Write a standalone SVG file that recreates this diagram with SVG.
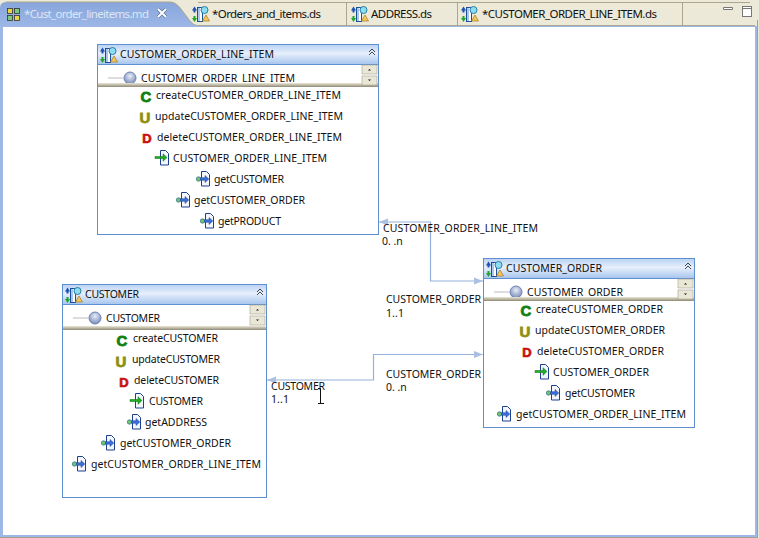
<svg xmlns="http://www.w3.org/2000/svg" width="759" height="538" viewBox="0 0 759 538">
<style>
text{font-family:"Noto Sans","DejaVu Sans",sans-serif;font-size:10.5px;fill:#111}
.tab{font-size:11.5px}
.box{fill:#fff;stroke:#5f8fd3;stroke-width:1}
.conn{fill:none;stroke:#93b1dc;stroke-width:1.2}
.ah{fill:#a9c0e3}
.lc{font:900 15px "Liberation Sans",sans-serif;fill:#127f12;stroke:#127f12;stroke-width:.8}
.lu{font:900 15px "Liberation Sans",sans-serif;fill:#8f8f12;stroke:#8f8f12;stroke-width:.8}
.ld{font:900 13px "Liberation Sans",sans-serif;fill:#c81212;stroke:#c81212;stroke-width:.7}
</style>
<defs>
<linearGradient id="hd" x1="0" y1="0" x2="0" y2="1"><stop offset="0" stop-color="#bcd3f4"/><stop offset=".45" stop-color="#e6effb"/><stop offset="1" stop-color="#a9c6ee"/></linearGradient>
<linearGradient id="tb" x1="0" y1="0" x2="0" y2="1"><stop offset="0" stop-color="#88a6dd"/><stop offset="1" stop-color="#9cb7e6"/></linearGradient>
<radialGradient id="ball" cx=".5" cy=".35" r=".7"><stop offset="0" stop-color="#e8edf7"/><stop offset="1" stop-color="#6d83b3"/></radialGradient>
<linearGradient id="band" x1="0" y1="0" x2="0" y2="1"><stop offset="0" stop-color="#ebe7d6"/><stop offset="1" stop-color="#8f8a75"/></linearGradient>
<g id="ds">
<rect x="5.500" y="2.500" width="5" height="14" fill="#fff" stroke="#1c4f99"/>
<rect x="6" y="3" width="2" height="13" fill="#a9c6ee"/>
<path d="M0 5.500l2.500-4 2.500 4h-1.500v2h-2v-2z" fill="#1c50b4"/>
<path d="M0 13l2.500 4 2.500-4h-1.500v-2h-2v2z" fill="#22a52a"/>
<circle cx="12.500" cy="5" r="3.500" fill="#8cdcf2" stroke="#2d7f9f"/>
<path d="M10.500 16l3.500-6 3.500 6z" fill="#f2c75c" stroke="#a8791d" stroke-width=".7"/>
</g>
<g id="ic"><text class="lc" x="0" y="5.500" text-anchor="middle">C</text></g>
<g id="iu"><text class="lu" x="0" y="5.500" text-anchor="middle">U</text></g>
<g id="id"><text class="ld" x="0" y="5" text-anchor="middle">D</text></g>
<g id="dg"><path d="M-3.500-7.500h5l3 3v11.500h-8z" fill="#f3f7fd" stroke="#1c3f8f"/><path d="M-9-1.500h8v-2.800l4 3.800-4 3.800v-2.800h-8z" fill="#1fae22" stroke="#0d6d12" stroke-width=".5"/></g>
<g id="db"><path d="M-3.500-7.500h5l3 3v11.500h-8z" fill="#f3f7fd" stroke="#1c3f8f"/><circle cx="-6.500" cy="0" r="2.200" fill="#6fc46f" stroke="#2c6f8f" stroke-width=".7"/><path d="M-4.500-1.300h4.500v-2.200l3.800 3.500-3.800 3.500v-2.200h-4.500z" fill="#3a6fdc" stroke="#1c3f8f" stroke-width=".5"/></g>
<g id="scroll">
<rect x="0" y="0" width="15" height="9" fill="#ebe7d6" stroke="#a5a08c" stroke-width=".6"/><path d="M6 5.500h3l-1.500-1.500z" fill="#111"/>
<rect x="0" y="11" width="15" height="9" fill="#ebe7d6" stroke="#a5a08c" stroke-width=".6"/><path d="M6 14.500h3l-1.500 1.500z" fill="#111"/>
</g>
<path id="chev" d="M0 3l3-3 3 3M0 6l3-3 3 3" fill="none" stroke="#333" stroke-width=".9"/>
</defs>

<g id="workbench">
<rect width="759" height="538" fill="#ece9d8"/>
<rect x="0" y="26" width="757" height="511" fill="#9db8e6"/>
<rect x="3" y="27" width="752" height="508" fill="#fff"/>
<path d="M0 537.500h758M757.500 20v518" stroke="#a5a08c" fill="none"/>
<path d="M0 27V8q0-6 6-6H170q6 0 11 7l9 12q3 4 8 5H0z" fill="url(#tb)"/>
<path d="M198 26q-5-1-8-5l-9-12q-5-7-11-7H6M346.500 3v23M457.500 3v23M682.500 3v23M198 2.500H750M198 25.500H755" fill="none" stroke="#aaa690"/>
<g fill="#e8d34a" stroke="#333" stroke-width=".8"><rect x="7.500" y="8.500" width="5" height="5"/><rect x="14.500" y="8.500" width="5" height="5" fill="#7cc87c"/><rect x="7.500" y="15.500" width="5" height="5" fill="#7cc87c"/><rect x="14.500" y="15.500" width="5" height="5"/></g>
<text class="tab" x="24" y="18" textLength="125" style="fill:#dce6f6">*Cust_order_lineitems.md</text>
<path d="M158 9l8 8M166 9l-8 8" stroke="#5a6f96" stroke-width="3.200"/>
<path d="M158 9l8 8M166 9l-8 8" stroke="#fff" stroke-width="2"/>
<use href="#ds" x="192" y="5"/><text class="tab" x="212" y="18" textLength="109">*Orders_and_items.ds</text>
<use href="#ds" x="351" y="5"/><text class="tab" x="371" y="18" textLength="61">ADDRESS.ds</text>
<use href="#ds" x="461" y="5"/><text class="tab" x="482" y="18" textLength="175">*CUSTOMER_ORDER_LINE_ITEM.ds</text>
<path d="M723.500 7.500h9v2h-9z" fill="#fff" stroke="#777"/>
<rect x="742.500" y="6.500" width="9" height="10" fill="#fff" stroke="#777"/><path d="M742.500 8.500h9" stroke="#777"/>
</g>

<g id="connectors">
<path class="conn" d="M379 222H430.500V281H483"/>
<path class="ah" d="M379 222l9-3.500v7zM483 281l-9-3.500v7z"/>
<path class="conn" d="M267 380H373.500V354.500H483"/>
<path class="ah" d="M267 380l9-3.500v7zM483 354.500l-9-3.500v7z"/>
</g>

<g id="node-line-item">
<rect class="box" x="97.500" y="44.500" width="281" height="190"/>
<rect x="98" y="45" width="280" height="19" fill="url(#hd)"/><path d="M98 64.500h280" stroke="#5f8fd3"/>
<use href="#ds" x="100" y="46"/><text x="120" y="58" textLength="154">CUSTOMER_ORDER_LINE_ITEM</text>
<use href="#chev" x="369" y="49"/>
<path d="M108 78h15" stroke="#bbb"/><circle cx="130" cy="78" r="6" fill="url(#ball)" stroke="#6d83b3"/>
<text x="141" y="82" textLength="154">CUSTOMER_ORDER_LINE_ITEM</text>
<rect x="98" y="83" width="280" height="4" fill="url(#band)"/>
<use href="#scroll" x="362" y="65"/>
<use href="#ic" x="146" y="96"/><text x="156" y="99" textLength="185">createCUSTOMER_ORDER_LINE_ITEM</text>
<use href="#iu" x="145" y="117"/><text x="155" y="120" textLength="188">updateCUSTOMER_ORDER_LINE_ITEM</text>
<use href="#id" x="147" y="138"/><text x="157" y="141" textLength="185">deleteCUSTOMER_ORDER_LINE_ITEM</text>
<use href="#dg" x="164" y="158"/><text x="173" y="162" textLength="154">CUSTOMER_ORDER_LINE_ITEM</text>
<use href="#db" x="205" y="179"/><text x="214" y="183" textLength="70">getCUSTOMER</text>
<use href="#db" x="185" y="200"/><text x="194" y="204" textLength="111">getCUSTOMER_ORDER</text>
<use href="#db" x="209" y="221"/><text x="218" y="225" textLength="63">getPRODUCT</text>
</g>

<g id="node-customer">
<rect class="box" x="62.500" y="284.500" width="204" height="213"/>
<rect x="63" y="285" width="203" height="19" fill="url(#hd)"/><path d="M63 304.500h203" stroke="#5f8fd3"/>
<use href="#ds" x="65" y="286"/><text x="85" y="298" textLength="54">CUSTOMER</text>
<use href="#chev" x="257" y="289"/>
<path d="M73 318h15" stroke="#bbb"/><circle cx="95" cy="318" r="6" fill="url(#ball)" stroke="#6d83b3"/>
<text x="106" y="322" textLength="54">CUSTOMER</text>
<rect x="63" y="326" width="203" height="4" fill="url(#band)"/>
<use href="#scroll" x="250" y="305"/>
<use href="#ic" x="122" y="340"/><text x="133" y="342" textLength="85">createCUSTOMER</text>
<use href="#iu" x="121" y="361"/><text x="132" y="363" textLength="88">updateCUSTOMER</text>
<use href="#id" x="124" y="382"/><text x="134" y="384" textLength="85">deleteCUSTOMER</text>
<use href="#dg" x="139" y="401"/><text x="149" y="405" textLength="54">CUSTOMER</text>
<use href="#db" x="136" y="422"/><text x="145" y="426" textLength="62">getADDRESS</text>
<use href="#db" x="110" y="443"/><text x="120" y="447" textLength="111">getCUSTOMER_ORDER</text>
<use href="#db" x="81" y="464"/><text x="91" y="468" textLength="170">getCUSTOMER_ORDER_LINE_ITEM</text>
</g>

<g id="node-order">
<rect class="box" x="483.500" y="258.500" width="211" height="169"/>
<rect x="484" y="259" width="210" height="19" fill="url(#hd)"/><path d="M484 278.500h210" stroke="#5f8fd3"/>
<use href="#ds" x="486" y="260"/><text x="506" y="272" textLength="96">CUSTOMER_ORDER</text>
<use href="#chev" x="685" y="263"/>
<path d="M494 292h15" stroke="#bbb"/><circle cx="516" cy="292" r="6" fill="url(#ball)" stroke="#6d83b3"/>
<text x="527" y="296" textLength="96">CUSTOMER_ORDER</text>
<rect x="484" y="297" width="210" height="4" fill="url(#band)"/>
<use href="#scroll" x="678" y="279"/>
<use href="#ic" x="526" y="310"/><text x="536" y="313" textLength="127">createCUSTOMER_ORDER</text>
<use href="#iu" x="525" y="331"/><text x="535" y="334" textLength="130">updateCUSTOMER_ORDER</text>
<use href="#id" x="527" y="352"/><text x="537" y="355" textLength="127">deleteCUSTOMER_ORDER</text>
<use href="#dg" x="544" y="372"/><text x="553" y="376" textLength="96">CUSTOMER_ORDER</text>
<use href="#db" x="555" y="393"/><text x="565" y="397" textLength="70">getCUSTOMER</text>
<use href="#db" x="506" y="414"/><text x="516" y="418" textLength="170">getCUSTOMER_ORDER_LINE_ITEM</text>
</g>

<g id="labels">
<text x="383" y="232" textLength="155">CUSTOMER_ORDER_LINE_ITEM</text>
<text x="382" y="245">0. .n</text>
<text x="386" y="303" textLength="95">CUSTOMER_ORDER</text>
<text x="386" y="317" textLength="18">1..1</text>
<text x="386" y="378" textLength="95">CUSTOMER_ORDER</text>
<text x="386" y="391">0. .n</text>
<text x="271" y="390" textLength="54">CUSTOMER</text>
<text x="271" y="403" textLength="18">1..1</text>
</g>
<path id="cursor" d="M318 388.500h2.500M320.500 388.500v15M318 403.500h6" fill="none" stroke="#111"/>
</svg>
